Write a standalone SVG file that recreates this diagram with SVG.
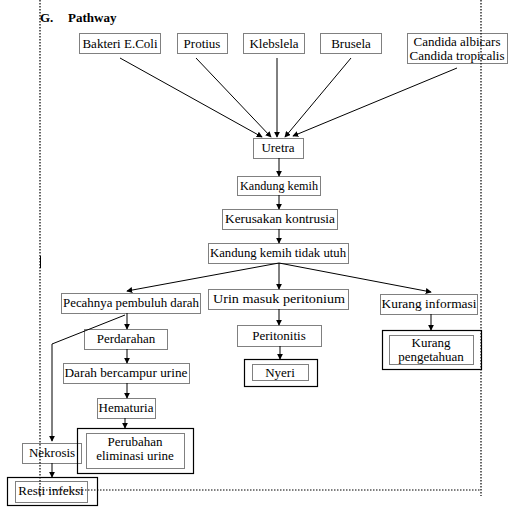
<svg xmlns="http://www.w3.org/2000/svg" width="525" height="529" viewBox="0 0 525 529">
<style>
text{font-family:'Liberation Serif','Times New Roman','DejaVu Serif',serif;font-size:13px;fill:#000;text-anchor:middle}
.t{font-weight:bold;text-anchor:start}
.d{fill:none;stroke:#000;stroke-width:1;stroke-dasharray:1 1}
.s{fill:none;stroke:#000;stroke-width:1.2}
.pg{fill:none;stroke:#000;stroke-width:1.2;stroke-dasharray:1.5 1.5}
.c{fill:none;stroke:#000;stroke-width:1;marker-end:url(#a)}
.l{fill:none;stroke:#000;stroke-width:1}
</style>
<defs>
<marker id="a" viewBox="0 0 8 8" refX="7" refY="4" markerWidth="6" markerHeight="6" markerUnits="userSpaceOnUse" orient="auto">
<path d="M0,0 L8,4 L0,8 z" fill="#000"/>
</marker>
</defs>
<rect width="525" height="529" fill="#fff"/>
<g id="title">
<text class="t" x="40" y="22" font-family="Liberation Serif">G.</text>
<text class="t" x="68" y="22" font-family="Liberation Serif">Pathway</text>
</g>
<g id="connectors">
<line class="c" x1="120" y1="58" x2="262" y2="137"/>
<line class="c" x1="196" y1="58" x2="271" y2="137"/>
<line class="c" x1="277" y1="58" x2="277" y2="137"/>
<line class="c" x1="351" y1="58" x2="285" y2="137"/>
<line class="c" x1="457" y1="68" x2="293" y2="136"/>
<line class="c" x1="279" y1="158" x2="279" y2="176"/>
<line class="c" x1="279" y1="195" x2="279" y2="209"/>
<line class="c" x1="279" y1="229" x2="279" y2="243"/>
<line class="c" x1="279" y1="263" x2="127" y2="291"/>
<line class="c" x1="279" y1="263" x2="279" y2="289"/>
<line class="c" x1="279" y1="263" x2="431" y2="292"/>
<line class="c" x1="279" y1="309" x2="279" y2="325"/>
<line class="c" x1="280" y1="346" x2="280" y2="359"/>
<line class="c" x1="431" y1="314" x2="431" y2="330"/>
<line class="c" x1="127" y1="313" x2="127" y2="329"/>
<line class="c" x1="127" y1="349" x2="127" y2="363"/>
<line class="c" x1="127" y1="383" x2="127" y2="398"/>
<line class="c" x1="125" y1="418" x2="125" y2="428"/>
<polyline class="c" points="125,315 52,344 52,441"/>
<line class="c" x1="52" y1="463" x2="52" y2="477"/>
</g>
<g id="n-ecoli"><rect class="d" x="79.5" y="33.5" width="81" height="20"/><text x="120" y="48">Bakteri E.Coli</text></g>
<g id="n-protius"><rect class="d" x="177.5" y="33.5" width="50" height="20"/><text x="202" y="48">Protius</text></g>
<g id="n-klebslela"><rect class="d" x="243.5" y="33.5" width="61" height="20"/><text x="274" y="48">Klebslela</text></g>
<g id="n-brusela"><rect class="d" x="320.5" y="33.5" width="61" height="20"/><text x="351" y="48">Brusela</text></g>
<g id="n-candida"><rect class="d" x="407.5" y="33.5" width="100" height="30"/><text x="457" y="46">Candida albicars</text><text x="457" y="60">Candida tropicalis</text></g>
<g id="n-uretra"><rect class="d" x="253.5" y="138.5" width="50" height="20"/><text x="278" y="152">Uretra</text></g>
<g id="n-kandung"><rect class="d" x="237.5" y="176.5" width="83" height="19"/><text x="279" y="190" textLength="78" lengthAdjust="spacingAndGlyphs">Kandung kemih</text></g>
<g id="n-kerusakan"><rect class="d" x="222.5" y="209.5" width="115" height="20"/><text x="280" y="223" textLength="110" lengthAdjust="spacingAndGlyphs">Kerusakan kontrusia</text></g>
<g id="n-tidakutuh"><rect class="d" x="208.5" y="243.5" width="140" height="20"/><text x="278" y="257" textLength="136" lengthAdjust="spacingAndGlyphs">Kandung kemih tidak utuh</text></g>
<g id="n-pecahnya"><rect class="d" x="61.5" y="293.5" width="139" height="20"/><text x="131" y="307" textLength="136" lengthAdjust="spacingAndGlyphs">Pecahnya pembuluh darah</text></g>
<g id="n-urin"><rect class="d" x="208.5" y="289.5" width="140" height="20"/><text x="279" y="303" textLength="132" lengthAdjust="spacingAndGlyphs">Urin masuk peritonium</text></g>
<g id="n-kurang-info"><rect class="d" x="380.5" y="294.5" width="97" height="20"/><text x="429" y="308" textLength="95" lengthAdjust="spacingAndGlyphs">Kurang informasi</text></g>
<g id="n-peritonitis"><rect class="d" x="237.5" y="325.5" width="84" height="21"/><text x="279" y="340">Peritonitis</text></g>
<g id="n-nyeri"><rect class="s" x="244.5" y="359.5" width="73" height="27"/><rect class="d" x="252.5" y="364.5" width="56" height="16"/><text x="280" y="377">Nyeri</text></g>
<g id="n-kurang-peng"><rect class="s" x="382.5" y="330.5" width="99" height="39"/><rect class="d" x="389.5" y="335.5" width="84" height="29"/><text x="431" y="347">Kurang</text><text x="431" y="361">pengetahuan</text></g>
<g id="n-perdarahan"><rect class="d" x="84.5" y="329.5" width="83" height="20"/><text x="126" y="343">Perdarahan</text></g>
<g id="n-darah"><rect class="d" x="63.5" y="363.5" width="126" height="20"/><text x="126" y="377" textLength="123" lengthAdjust="spacingAndGlyphs">Darah bercampur urine</text></g>
<g id="n-hematuria"><rect class="d" x="97.5" y="398.5" width="58" height="20"/><text x="126" y="412">Hematuria</text></g>
<g id="n-perubahan"><rect class="s" x="77.5" y="428.5" width="116" height="45"/><rect class="d" x="86.5" y="433.5" width="98" height="35"/><text x="135" y="446">Perubahan</text><text x="135" y="460">eliminasi urine</text></g>
<g id="n-nekrosis"><rect class="d" x="22.5" y="443.5" width="59" height="20"/><text x="52" y="457">Nekrosis</text></g>
<g id="n-resti"><rect class="s" x="7.5" y="477.5" width="90" height="28"/><rect class="d" x="15.5" y="481.5" width="72" height="21"/><text x="51" y="495">Resti infeksi</text></g>
<g id="page">
<line class="pg" x1="40" y1="0" x2="40" y2="497"/>
<line class="pg" x1="40" y1="490" x2="481" y2="490"/>
<line class="pg" x1="481" y1="0" x2="481" y2="496"/>
<line class="l" x1="40.5" y1="256" x2="40.5" y2="268" stroke-width="2"/>
</g>
</svg>
